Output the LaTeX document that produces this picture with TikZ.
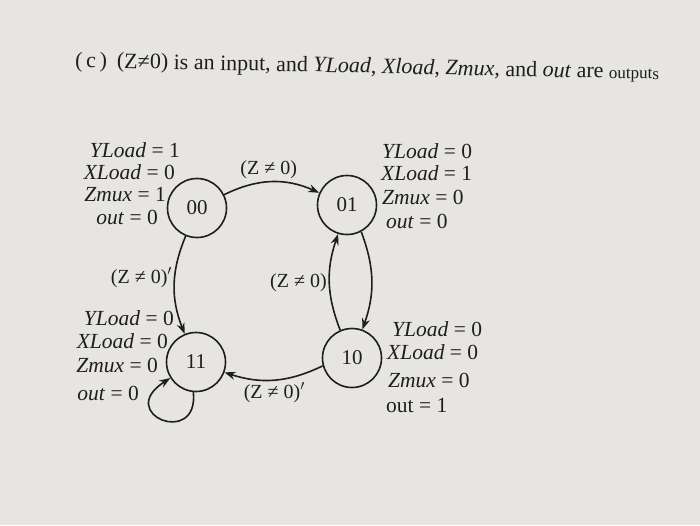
\documentclass[tikz,border=0pt]{standalone}
\usepackage{fontspec}
\setmainfont{Liberation Serif}
\usetikzlibrary{arrows.meta}
\definecolor{ink}{HTML}{1E1E1E}
\definecolor{paper}{HTML}{E6E5E1}
\begin{document}
\begin{tikzpicture}[x=1pt,y=1pt,
  state/.style={circle,draw=ink,line width=1.6pt,minimum size=59pt,inner sep=0pt,text=ink,font=\fontsize{21}{25}\selectfont},
  lbl/.style={font=\fontsize{21.5}{25}\selectfont,inner sep=0pt,text=ink},
  elbl/.style={font=\fontsize{20}{23}\selectfont,inner sep=2pt,text=ink},
  tr/.style={draw=ink,line width=1.6pt,-{Stealth[length=11pt,width=8pt]}}]
\fill[paper] (0,0) rectangle (700,-525);
\useasboundingbox (0,0) rectangle (700,-525);

% title
\node[anchor=base west,inner sep=0pt,text=ink,font=\fontsize{22}{25}\selectfont,rotate=-1.2] (title) at (75,-67)
  {(\,c\,)\hspace{10pt}(Z≠0) is an input, and \textit{YLoad}, \textit{Xload}, \textit{Zmux}, and \textit{out} are {\fontsize{17}{20}\selectfont outputs}};

% states
\node[state] (s00) at (197,-208) {00};
\node[state] (s01) at (347,-205) {01};
\node[state] (s11) at (196,-362) {11};
\node[state] (s10) at (352,-358) {10};

% outputs of 00
\node[lbl,anchor=east] (o00a) at (180,-150) {\textit{YLoad} = 1};
\node[lbl,anchor=east] (o00b) at (175,-172) {\textit{XLoad} = 0};
\node[lbl,anchor=east] (o00c) at (166,-195) {\textit{Zmux} = 1};
\node[lbl,anchor=east] (o00d) at (158,-217) {\textit{out} = 0};
% outputs of 01
\node[lbl,anchor=west] (o01a) at (382,-151) {\textit{YLoad} = 0};
\node[lbl,anchor=west] (o01b) at (381,-173) {\textit{XLoad} = 1};
\node[lbl,anchor=west] (o01c) at (382,-197) {\textit{Zmux} = 0};
\node[lbl,anchor=west] (o01d) at (386,-221) {\textit{out} = 0};
% outputs of 11
\node[lbl,anchor=east] (o11a) at (174,-318) {\textit{YLoad} = 0};
\node[lbl,anchor=east] (o11b) at (168,-341) {\textit{XLoad} = 0};
\node[lbl,anchor=east] (o11c) at (158,-365) {\textit{Zmux} = 0};
\node[lbl,anchor=east] (o11d) at (139,-393) {\textit{out} = 0};
% outputs of 10
\node[lbl,anchor=west] (o10a) at (392,-329) {\textit{YLoad} = 0};
\node[lbl,anchor=west] (o10b) at (387,-352) {\textit{XLoad} = 0};
\node[lbl,anchor=west] (o10c) at (388,-380) {\textit{Zmux} = 0};
\node[lbl,anchor=west] (o10d) at (386,-405) {out = 1};

% transitions
\draw[tr] (s00) to[bend left=25] node[elbl,above,pos=0.47] (e1) {(Z ≠ 0)} (s01);
\draw[tr] (s00.-112) to[bend right=22] node[elbl,left,pos=0.42] (e2) {(Z ≠ 0)$'$} (s11.112);
\draw[tr] (s01.-62) to[bend left=20] (s10.70);
\draw[tr] (s10.113) to[bend left=20] node[elbl,left,pos=0.5] (e3) {(Z ≠ 0)} (s01.-107);
\draw[tr] (s10.-165) to[bend left=22] node[elbl,below,pos=0.5] (e4) {(Z ≠ 0)$'$} (s11.-20);
\draw[tr] (s11.-95) .. controls (199,-448) and (114,-414) .. (s11.-148);
\end{tikzpicture}
\end{document}
